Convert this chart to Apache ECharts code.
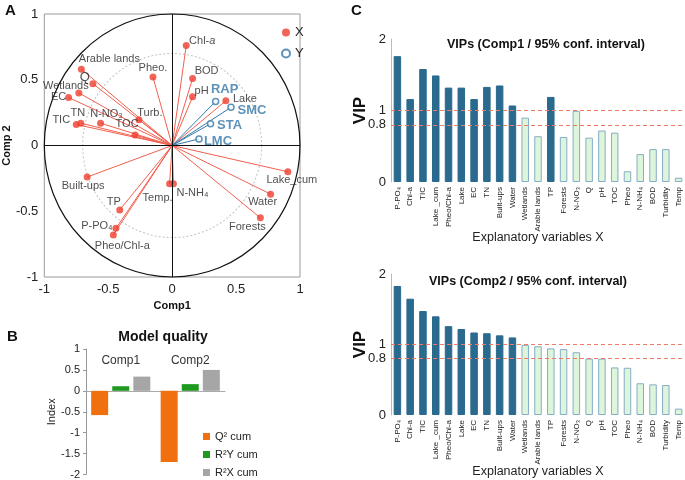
<!DOCTYPE html>
<html><head><meta charset="utf-8">
<script src="https://cdn.jsdelivr.net/npm/echarts@6/dist/echarts.min.js"></script>
<style>html,body{margin:0;padding:0;background:#fff}#c{width:685px;height:480px}</style>
</head><body><div id="c"></div>
<script>
// ---- Panel A: correlation circle ----
const xNames = ['Chl-a','BOD','pH','Lake','Pheo.','Arable lands','Q','Wetlands','EC','TIC','TN','N-NO₃','TOC','Turb.','Built-ups','Lake_cum','Water','Forests','TP','P-PO₄','Pheo/Chl-a','Temp.','N-NH₄'];
const xComp1 = [0.11,0.16,0.16,0.42,-0.15,-0.71,-0.62,-0.73,-0.81,-0.75,-0.715,-0.56,-0.29,-0.26,-0.665,0.905,0.77,0.69,-0.41,-0.44,-0.46,-0.02,0.01];
const xComp2 = [0.76,0.51,0.37,0.34,0.52,0.58,0.47,0.40,0.365,0.16,0.17,0.17,0.08,0.195,-0.24,-0.20,-0.37,-0.55,-0.49,-0.63,-0.68,-0.29,-0.29];
const yNames = ['RAP','SMC','STA','LMC'];
const yComp1 = [0.34,0.46,0.30,0.21];
const yComp2 = [0.335,0.29,0.165,0.05];

// ---- Panel B: model quality ----
const bCats = ['Comp1','Comp2'];
const q2cum = [-0.58,-1.70];
const r2ycum = [0.11,0.16];
const r2xcum = [0.34,0.50];

// ---- Panel C: VIPs ----
const vip1Cats = ['P-PO₄','Chl-a','TIC','Lake _cum','Pheo/Chl-a','Lake','EC','TN','Built-ups','Water','Wetlands','Arable lands','TP','Forests','N-NO₃','Q','pH','TOC','Pheo','N-NH₄','BOD','Turbidity','Temp'];
const vip1Vals = [1.76,1.16,1.58,1.49,1.32,1.32,1.16,1.33,1.35,1.07,0.90,0.64,1.19,0.63,0.995,0.62,0.72,0.69,0.15,0.39,0.46,0.46,0.06];
const vip2Cats = ['P-PO₄','Chl-a','TIC','Lake _cum','Pheo/Chl-a','Lake','EC','TN','Built-ups','Water','Wetlands','Arable lands','TP','Forests','N-NO₃','Q','pH','TOC','Pheo','N-NH₄','BOD','Turbidity','Temp'];
const vip2Vals = [1.83,1.65,1.475,1.40,1.26,1.22,1.17,1.16,1.13,1.10,0.995,0.975,0.945,0.935,0.89,0.80,0.80,0.675,0.67,0.45,0.435,0.425,0.09];
const vipTicks = [0,0.8,1,2];

// ---- styling (label offsets in px, not data) ----
const labelOffset = {
 'Chl-a':[16,-5],'BOD':[14,-7],'pH':[9,-6],'Lake':[19,-2],'Pheo.':[0,-9],'Arable lands':[28,-10],
 'Q':[-8,-6],'Wetlands':[-13,-7],'EC':[-10,-1],'TIC':[-15,-4],'TN':[-3,-10],'N-NO₃':[6,-9],
 'TOC':[-8,-11],'Turb.':[11,-7],'Built-ups':[-4,9],'Lake_cum':[4,8],'Water':[-8,8],'Forests':[-13,9],
 'TP':[-6,-8],'P-PO₄':[-19,-2],'Pheo/Chl-a':[9,11],'Temp.':[-12,14],'N-NH₄':[19,9],
 'RAP':[9,-12],'SMC':[21,3],'STA':[19,2],'LMC':[19,2]
};
const RED='#ee3e2f', REDL='#f0604f', BLUE='#3577a8';
const FF = "'Liberation Sans', Arial, sans-serif";

const chart = echarts.init(document.getElementById('c'));

function vecItem(color){
  return function(params, api){
    const o = api.coord([0,0]);
    const p = api.coord([api.value(0), api.value(1)]);
    return {type:'line', shape:{x1:o[0],y1:o[1],x2:p[0],y2:p[1]}, style:{stroke:color, lineWidth:1}};
  };
}

const xPoints = xNames.map((n,i)=>({name:n, value:[xComp1[i], xComp2[i]],
  label:{offset:labelOffset[n]||[0,0], fontSize: n==='Q'?13:11}}));
const yPoints = yNames.map((n,i)=>({name:n, value:[yComp1[i], yComp2[i]],
  label:{offset:labelOffset[n]||[0,0]}}));

function vipData(vals){
  return vals.map(v => v > 1
    ? {value:v, itemStyle:{color:'#2a6a8e', borderColor:'#2a6a8e', borderWidth:1}}
    : {value:v, itemStyle:{color:'#ddf5da', borderColor:'#86adc6', borderWidth:1}});
}
function vipFormatter(v){
  for (const t of vipTicks) if (Math.abs(t-v) < 1e-6) return String(t);
  return '';
}
const refLines = {symbol:'none', silent:true, label:{show:false},
  lineStyle:{color:'#f07a66', type:[4,3], width:1}, data:[{yAxis:1},{yAxis:0.8}]};

const vipX = (cats, gi, gap) => ({type:'category', gridIndex:gi, data:cats,
  axisLine:{show:false}, axisTick:{show:false},
  axisLabel:{rotate:90, interval:0, fontSize:8, margin:5, color:'#222'},
  name:'Explanatory variables X', nameLocation:'middle', nameGap:gap, nameMoveOverlap:false,
  nameTextStyle:{fontSize:12.5, color:'#222'}});
const vipY = gi => ({type:'value', gridIndex:gi, min:0, max:2, interval:0.2,
  axisLine:{show:true, lineStyle:{color:'#bbb'}}, axisTick:{show:false}, splitLine:{show:false},
  axisLabel:{formatter:vipFormatter, fontSize:13, margin:5, color:'#222'},
  name:'VIP', nameLocation:'middle', nameRotate:90, nameGap:22, nameMoveOverlap:false,
  nameTextStyle:{fontSize:17, fontWeight:'bold', color:'#111'}});

const option = {
  animation:false,
  textStyle:{fontFamily:FF},
  grid:[
    {left:33, top:14, width:267, height:263, show:true, borderColor:'#9a9a9a', borderWidth:1, backgroundColor:'transparent'},
    {left:86, top:349, width:139, height:127},
    {left:391, top:39, width:296, height:143},
    {left:391, top:274, width:296, height:141}
  ],
  xAxis:[
    {type:'value', gridIndex:0, min:-1, max:1, interval:0.5, axisLine:{show:false}, axisTick:{show:false},
     splitLine:{show:false}, axisLabel:{fontSize:13, margin:6, color:'#222'},
     name:'Comp1', nameLocation:'middle', nameGap:22, nameTextStyle:{fontSize:11, fontWeight:'bold', color:'#111'}},
    {type:'category', gridIndex:1, data:bCats, axisLine:{onZero:true, lineStyle:{color:'#aaa'}},
     axisTick:{show:false}, axisLabel:{show:false}},
    {type:'category', gridIndex:1, data:bCats, position:'top', axisLine:{show:false}, axisTick:{show:false},
     axisLabel:{inside:true, margin:6, fontSize:12, color:'#333'}},
    vipX(vip1Cats, 2, 49),
    vipX(vip2Cats, 3, 50)
  ],
  yAxis:[
    {type:'value', gridIndex:0, min:-1, max:1, interval:0.5, axisLine:{show:false}, axisTick:{show:false},
     splitLine:{show:false}, axisLabel:{fontSize:13, margin:6, color:'#222'},
     name:'Comp 2', nameLocation:'middle', nameRotate:90, nameGap:19, nameTextStyle:{fontSize:11, fontWeight:'bold', color:'#111'}},
    {type:'value', gridIndex:1, min:-2, max:1, interval:0.5, axisLine:{show:true, lineStyle:{color:'#999'}},
     axisTick:{show:true, length:3, lineStyle:{color:'#999'}}, splitLine:{show:false},
     axisLabel:{fontSize:11, margin:6, color:'#222'},
     name:'Index', nameLocation:'middle', nameRotate:90, nameGap:27, nameTextStyle:{fontSize:11, color:'#222'}},
    vipY(2), vipY(3)
  ],
  legend:[
    {data:['X','Y'], orient:'vertical', left:276, top:21, itemWidth:8, itemHeight:8, itemGap:8,
     icon:'circle', textStyle:{fontSize:13, color:'#222'}},
    {data:['Q² cum','R²Y cum','R²X cum'], orient:'vertical', left:203, top:430, height:80, padding:0,
     itemWidth:7, itemHeight:7, itemGap:5, icon:'rect', textStyle:{fontSize:11, color:'#222', lineHeight:13}}
  ],
  graphic:[
    {type:'text', x:5, y:3, style:{text:'A', font:"bold 15px "+FF, fill:'#111'}},
    {type:'text', x:7, y:329, style:{text:'B', font:"bold 15px "+FF, fill:'#111'}},
    {type:'text', x:351, y:3, style:{text:'C', font:"bold 15px "+FF, fill:'#111'}},
    {type:'text', x:163, y:337, style:{text:'Model quality', font:"bold 14px "+FF, fill:'#111', textAlign:'center', textVerticalAlign:'middle'}},
    {type:'text', x:546, y:45, style:{text:'VIPs (Comp1 / 95% conf. interval)', font:"bold 12.5px "+FF, fill:'#111', textAlign:'center', textVerticalAlign:'middle'}},
    {type:'text', x:528, y:282, style:{text:'VIPs (Comp2 / 95% conf. interval)', font:"bold 12.5px "+FF, fill:'#111', textAlign:'center', textVerticalAlign:'middle'}}
  ],
  series:[
    {type:'custom', xAxisIndex:0, yAxisIndex:0, silent:true, z:1, data:[[0,0]],
     renderItem:function(params, api){
       const c = api.coord([0,0]); const s = api.size([1,1]);
       const k = s[1]/s[0];
       return {type:'group', children:[
         {type:'circle', shape:{cx:c[0], cy:c[1], r:s[0]}, scaleY:k, originX:c[0], originY:c[1],
          style:{fill:'none', stroke:'#111', lineWidth:1.2}},
         {type:'circle', shape:{cx:c[0], cy:c[1], r:s[0]*0.7}, scaleY:k, originX:c[0], originY:c[1],
          style:{fill:'none', stroke:'#c4c4c4', lineWidth:1, lineDash:[2,2]}}
       ]};
     }},
    {type:'custom', xAxisIndex:0, yAxisIndex:0, silent:true, z:2,
     data:xNames.map((n,i)=>[xComp1[i], xComp2[i]]), renderItem:vecItem(REDL)},
    {type:'custom', xAxisIndex:0, yAxisIndex:0, silent:true, z:2,
     data:yNames.map((n,i)=>[yComp1[i], yComp2[i]]), renderItem:vecItem(BLUE)},
    {name:'X', type:'scatter', xAxisIndex:0, yAxisIndex:0, z:3, symbolSize:7, data:xPoints,
     itemStyle:{color:RED},
     label:{show:true, position:'inside', color:'#222', fontSize:11,
       formatter:p => p.name==='Chl-a' ? 'Chl-{i|a}' : p.name,
       rich:{i:{fontStyle:'italic', fontSize:11, color:'#222'}}},
     markLine:{symbol:'none', silent:true, label:{show:false}, animation:false,
       lineStyle:{color:'#111', type:'solid', width:1}, data:[{xAxis:0},{yAxis:0}]}},
    {name:'Y', type:'scatter', xAxisIndex:0, yAxisIndex:0, z:4, symbolSize:6, data:yPoints,
     itemStyle:{color:'#fff', borderColor:BLUE, borderWidth:1.5},
     label:{show:true, position:'inside', color:BLUE, fontSize:13, fontWeight:'bold', formatter:'{b}'}},
    {name:'Q² cum', type:'bar', xAxisIndex:1, yAxisIndex:1, data:q2cum, barWidth:17, barGap:'24%', itemStyle:{color:'#f07010'}},
    {name:'R²Y cum', type:'bar', xAxisIndex:1, yAxisIndex:1, data:r2ycum, barWidth:17, barGap:'24%', itemStyle:{color:'#1f9a1f'}},
    {name:'R²X cum', type:'bar', xAxisIndex:1, yAxisIndex:1, data:r2xcum, barWidth:17, barGap:'24%', itemStyle:{color:'#a6a6a6'}},
    {type:'bar', xAxisIndex:3, yAxisIndex:2, data:vipData(vip1Vals), barWidth:7.5, markLine:refLines},
    {type:'bar', xAxisIndex:4, yAxisIndex:3, data:vipData(vip2Vals), barWidth:7.5, markLine:refLines}
  ]
};
chart.setOption(option);
</script></body></html>
